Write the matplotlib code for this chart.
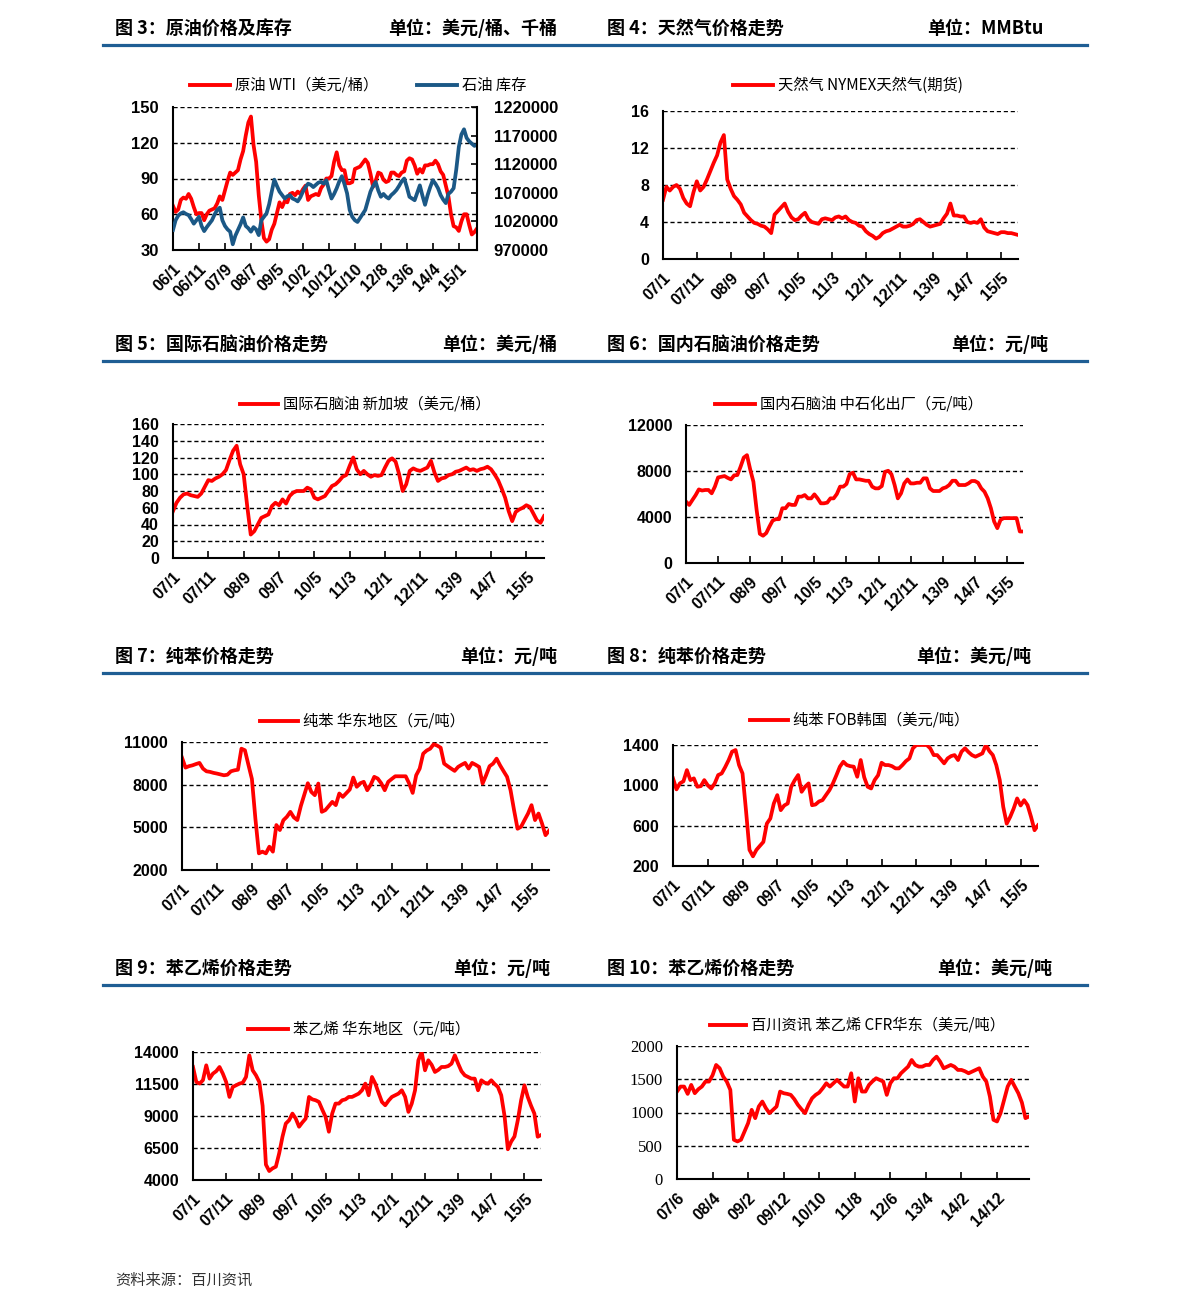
import numpy as np
import matplotlib.pyplot as plt
from matplotlib.lines import Line2D

plt.rcParams['font.family'] = ['Liberation Sans', 'Noto Sans CJK SC']

W, H = 1191, 1310
CJK = ['Noto Sans CJK SC', 'DejaVu Sans']
RED = '#FF0000'
NAVY = '#1B5886'
RULE = '#1F5E94'

# x tick labels (one label every 10 data points, as in the source charts)
labels_06 = ['06/1', '06/11', '07/9', '08/7', '09/5', '10/2', '10/12',
             '11/10', '12/8', '13/6', '14/4', '15/1']
labels_07 = ['07/1', '07/11', '08/9', '09/7', '10/5', '11/3', '12/1',
             '12/11', '13/9', '14/7', '15/5']
labels_0706 = ['07/6', '08/4', '09/2', '09/12', '10/10', '11/8', '12/6',
               '13/4', '14/2', '14/12']

# 原油 WTI, monthly from 2006/1 (美元/桶)
wti = [67, 62, 64, 72, 74, 73, 77, 73, 66, 60, 61, 61,
       55, 60, 63, 64, 65, 69, 75, 72, 80, 88, 95, 93,
       95, 97, 106, 113, 126, 137, 142, 118, 104, 76, 55, 40,
       37, 39, 47, 52, 61, 70, 66, 71, 70, 77, 78, 76,
       79, 77, 81, 84, 72, 75, 76, 77, 76, 82, 85, 90,
       90, 92, 104, 112, 101, 97, 97, 86, 86, 87, 98, 99,
       100, 103, 106, 103, 94, 83, 88, 95, 94, 89, 87, 88,
       95, 95, 93, 92, 95, 96, 105, 107, 106, 101, 94, 98,
       95, 101, 101, 102, 102, 105, 102, 96, 93, 84, 75, 60,
       50, 49, 46, 54, 60, 60, 51, 43, 45, 48]

# 石油 库存, monthly from 2006/1 (千桶)
stock = [1005000, 1022000, 1030000, 1034000, 1036000, 1033000, 1031000, 1024000, 1016000, 1022000, 1028000, 1012000,
         1003000, 1010000, 1016000, 1022000, 1032000, 1040000, 1044000, 1022000, 1012000, 1006000, 1002000, 980000,
         995000, 1005000, 1015000, 1027000, 1012000, 1008000, 1002000, 1010000, 1006000, 996000, 1022000, 1028000,
         1034000, 1050000, 1072000, 1093000, 1082000, 1072000, 1066000, 1060000, 1064000, 1066000, 1060000, 1058000,
         1055000, 1062000, 1072000, 1080000, 1086000, 1084000, 1080000, 1084000, 1088000, 1089000, 1086000, 1092000,
         1075000, 1060000, 1068000, 1078000, 1090000, 1099000, 1085000, 1069000, 1040000, 1028000, 1022000, 1019000,
         1026000, 1033000, 1040000, 1056000, 1072000, 1082000, 1089000, 1074000, 1063000, 1068000, 1063000, 1060000,
         1066000, 1070000, 1075000, 1082000, 1090000, 1095000, 1080000, 1063000, 1060000, 1057000, 1070000, 1083000,
         1065000, 1049000, 1066000, 1080000, 1092000, 1086000, 1078000, 1066000, 1058000, 1052000, 1068000, 1072000,
         1078000, 1110000, 1150000, 1172000, 1181000, 1166000, 1160000, 1156000, 1152000, 1154000]

# 天然气 NYMEX, monthly from 2007/1
natgas = [6.4, 7.8, 7.4, 7.8, 8.0, 7.6, 6.6, 6.0, 5.7, 7.2, 8.4, 7.4,
          7.8, 8.6, 9.5, 10.4, 11.2, 12.6, 13.4, 8.6, 7.6, 6.8, 6.4, 5.9,
          5.0, 4.6, 4.2, 3.9, 3.8, 3.6, 3.5, 3.2, 2.8, 4.8, 5.2, 5.6,
          6.0, 5.1, 4.5, 4.2, 4.3, 4.7, 5.0, 4.3, 4.0, 3.9, 3.8, 4.3,
          4.4, 4.3, 4.2, 4.5, 4.6, 4.4, 4.6, 4.2, 4.0, 3.9, 3.6, 3.5,
          3.0, 2.7, 2.5, 2.2, 2.4, 2.8, 3.0, 3.1, 3.3, 3.5, 3.7, 3.5,
          3.5, 3.6, 3.8, 4.2, 4.3, 4.0, 3.7, 3.5, 3.6, 3.7, 3.8, 4.4,
          4.9, 6.0, 4.7, 4.7, 4.6, 4.6, 4.0, 3.9, 4.0, 3.9, 4.3, 3.4,
          3.0, 2.9, 2.8, 2.7, 2.9, 2.9, 2.8, 2.8, 2.7, 2.6]

# 国际石脑油 新加坡, monthly from 2007/1
naphtha_sg = [56, 66, 72, 76, 77, 75, 74, 73, 77, 85, 93, 92,
              95, 97, 100, 105, 117, 128, 134, 112, 100, 62, 28, 32,
              40, 48, 50, 52, 62, 66, 63, 70, 65, 74, 78, 80,
              80, 80, 84, 82, 72, 70, 72, 74, 80, 86, 88, 92,
              97, 99, 110, 120, 106, 100, 104, 100, 97, 99, 98, 99,
              108, 116, 119, 115, 100, 80, 88, 104, 107, 105, 104, 106,
              108, 116, 102, 92, 95, 96, 99, 100, 103, 104, 106, 108,
              105, 106, 104, 106, 107, 109, 106, 100, 93, 83, 72, 56,
              44, 55, 58, 60, 63, 61, 53, 45, 42, 50]

# 国内石脑油 中石化出厂, monthly from 2007/1
naphtha_cn = [5340, 5050, 5480, 5900, 6400, 6300, 6350, 6350, 6060, 6640, 7440, 7500,
              7560, 7400, 7270, 7620, 7650, 8370, 9170, 9380, 8140, 7070, 4620, 2540,
              2370, 2600, 3170, 3690, 3810, 3810, 4760, 4760, 5130, 5050, 5050, 5770,
              5770, 5910, 5620, 5620, 5970, 5620, 5190, 5190, 5250, 5620, 5620, 6000,
              6640, 6640, 6870, 7730, 7850, 7270, 7270, 7210, 7150, 7150, 6640, 6490,
              6490, 6690, 7930, 8020, 7730, 6780, 5620, 6060, 6920, 7270, 6920, 6920,
              6980, 6980, 7360, 7360, 6490, 6260, 6260, 6260, 6490, 6580, 6780, 7150,
              7150, 6780, 6780, 6780, 6920, 7130, 7130, 6980, 6490, 6200, 5620, 4760,
              3610, 3030, 3750, 3900, 3900, 3900, 3900, 3900, 2740, 2740]

# 纯苯 华东地区, monthly from 2007/1
benzene_cn = [9900, 9200, 9300, 9360, 9450, 9530, 9130, 8940, 8900, 8830, 8780, 8720,
              8660, 8700, 8940, 9010, 9050, 10530, 10420, 9400, 8400, 5600, 3170, 3290,
              3170, 3640, 3290, 5160, 4810, 5500, 5740, 6090, 5700, 5510, 6500, 7300,
              8100, 7490, 7260, 8080, 6090, 6210, 6500, 6790, 6560, 7380, 7140, 7400,
              7660, 8500, 7850, 8100, 8200, 7610, 8000, 8550, 8430, 8100, 7610, 8200,
              8400, 8590, 8590, 8590, 8590, 8080, 7420, 8660, 9130, 10180, 10400, 10530,
              10840, 10750, 10600, 9480, 9300, 9130, 8970, 9250, 9400, 9530, 9130, 9530,
              9400, 9250, 8080, 8660, 9300, 9480, 9830, 9360, 8950, 8550, 7610, 6210,
              4900, 5040, 5510, 5970, 6560, 5510, 5970, 5270, 4450, 4760]

# 纯苯 FOB韩国, monthly from 2007/1
benzene_kr = [1069, 960, 1020, 1040, 1151, 1052, 1069, 986, 992, 1052, 1000, 969,
              1019, 1102, 1118, 1180, 1250, 1334, 1350, 1201, 1118, 750, 360, 296,
              360, 400, 439, 621, 671, 820, 903, 754, 800, 820, 986, 1050,
              1102, 936, 986, 1019, 803, 810, 840, 853, 903, 952, 1019, 1100,
              1185, 1234, 1201, 1190, 1185, 1085, 1251, 1080, 986, 969, 1052, 1100,
              1224, 1201, 1201, 1190, 1168, 1168, 1201, 1240, 1267, 1367, 1400, 1400,
              1400, 1400, 1367, 1300, 1300, 1260, 1218, 1267, 1290, 1300, 1251, 1334,
              1367, 1330, 1300, 1284, 1300, 1317, 1400, 1340, 1300, 1201, 1052, 787,
              620, 687, 770, 870, 800, 853, 803, 687, 555, 604]

# 苯乙烯 华东地区, monthly from 2007/1
styrene_cn = [12830, 11660, 11530, 11800, 12960, 11920, 12310, 12500, 12830, 12310, 11660, 10490,
              11270, 11400, 11530, 11600, 12050, 13740, 12570, 12180, 11660, 9800, 5200, 4700,
              4910, 5040, 6080, 7380, 8410, 8670, 9190, 8800, 8160, 8500, 8800, 10490,
              10300, 10230, 10100, 9500, 8930, 7770, 9190, 9970, 9970, 10230, 10300, 10490,
              10490, 10620, 10750, 11010, 11530, 10620, 12050, 11530, 10800, 10100, 9840, 10200,
              10490, 10620, 10750, 11010, 10500, 9320, 9970, 11010, 13350, 14000, 12570, 13350,
              13000, 12440, 12600, 12830, 12830, 12900, 13090, 13740, 13090, 12500, 12180, 12050,
              11920, 11920, 11010, 11790, 11600, 11530, 11790, 11500, 11270, 10620, 9000, 6400,
              7000, 7400, 8670, 10230, 11400, 10490, 9800, 9190, 7380, 7510]

# 百川资讯 苯乙烯 CFR华东, monthly from 2007/6
styrene_cfr = [1315, 1390, 1390, 1280, 1415, 1290, 1350, 1390, 1465, 1465, 1560, 1715,
               1665, 1540, 1465, 1340, 590, 565, 590, 715, 840, 1040, 915, 1090,
               1165, 1065, 990, 1040, 1090, 1315, 1290, 1280, 1265, 1200, 1115, 1050,
               990, 1115, 1215, 1265, 1300, 1365, 1440, 1390, 1440, 1490, 1440, 1390,
               1390, 1590, 1165, 1515, 1315, 1315, 1415, 1470, 1515, 1490, 1465, 1265,
               1440, 1515, 1515, 1590, 1640, 1690, 1790, 1715, 1690, 1690, 1715, 1715,
               1790, 1840, 1765, 1665, 1690, 1715, 1690, 1640, 1640, 1620, 1590, 1615,
               1640, 1665, 1540, 1465, 1240, 890, 865, 990, 1190, 1390, 1490, 1390,
               1290, 1150, 915, 940]

fig = plt.figure(figsize=(W / 100, H / 100), dpi=100)


def fx(x):
    return x / W


def fy(y):
    return 1 - y / H


def header(x0, x1, y, title, unit):
    fig.text(fx(x0), fy(y), title, family=CJK, fontsize=13, fontweight='bold', va='center')
    fig.text(fx(x1), fy(y), unit, family=CJK, fontsize=13, fontweight='bold', va='center', ha='right')


def rule(y):
    fig.add_artist(Line2D([fx(103), fx(1087)], [fy(y), fy(y)], color=RULE, lw=2.3,
                          transform=fig.transFigure))


def legend_item(x0, x1, y, text, color):
    fig.add_artist(Line2D([fx(x0), fx(x1)], [fy(y), fy(y)], color=color, lw=2.8,
                          transform=fig.transFigure))
    fig.text(fx(x1 + 5), fy(y), text, family=CJK, fontsize=11, va='center')


def panel(box, values, labels, ylim, yticks, color=RED, size=11.5, yfamily=None, yweight='bold'):
    x0, y0, x1, y1 = box
    ax = fig.add_axes([fx(x0), fy(y1), (x1 - x0) / W, (y1 - y0) / H])
    ax.plot(np.arange(len(values)), values, color=color, lw=2.7, solid_joinstyle='round')
    ax.set_xlim(0, len(values) - 1)
    ax.set_ylim(*ylim)
    ax.set_yticks(yticks)
    ax.set_yticklabels([str(v) for v in yticks], fontsize=size, fontweight=yweight,
                       family=yfamily if yfamily else ['Liberation Sans'])
    ax.set_xticks(np.arange(len(labels)) * 10)
    ax.set_xticklabels(labels, rotation=45, ha='right', va='top', rotation_mode='anchor',
                       fontsize=11.5, fontweight='bold')
    ax.tick_params(axis='y', length=0, pad=10)
    ax.tick_params(axis='x', direction='in', length=5, width=1.2, pad=8)
    ax.grid(axis='y', color='black', lw=1, ls=(0, (3, 2)))
    for s in ['top', 'right']:
        ax.spines[s].set_visible(False)
    for s in ['left', 'bottom']:
        ax.spines[s].set_linewidth(1.5)
    ax.patch.set_alpha(0)
    return ax


# row 1
rule(45)
header(115, 557, 28, '图 3：原油价格及库存', '单位：美元/桶、千桶')
header(607, 1043, 28, '图 4：天然气价格走势', '单位：MMBtu')

legend_item(190, 230, 85, '原油 WTI（美元/桶）', RED)
legend_item(417, 457, 85, '石油 库存', NAVY)
ax3 = panel((173, 107, 477, 250), wti, labels_06, (30, 150), [30, 60, 90, 120, 150], size=12)
ax3b = ax3.twinx()
ax3b.plot(np.arange(len(stock)), stock, color=NAVY, lw=2.7, solid_joinstyle='round')
ax3b.set_xlim(0, len(stock) - 1)
ax3b.set_ylim(970000, 1220000)
stock_ticks = [970000, 1020000, 1070000, 1120000, 1170000, 1220000]
ax3b.set_yticks(stock_ticks)
ax3b.set_yticklabels([str(v) for v in stock_ticks], fontsize=12, fontweight='bold')
ax3b.tick_params(axis='y', direction='in', length=4, width=1.2, pad=12)
for s in ['top', 'left', 'bottom']:
    ax3b.spines[s].set_visible(False)
ax3b.spines['right'].set_linewidth(1.5)

legend_item(733, 773, 85, '天然气 NYMEX天然气(期货)', RED)
panel((663, 111, 1018, 259), natgas, labels_07, (0, 16), [0, 4, 8, 12, 16])

# row 2
rule(361)
header(115, 557, 344, '图 5：国际石脑油价格走势', '单位：美元/桶')
header(607, 1048, 344, '图 6：国内石脑油价格走势', '单位：元/吨')
legend_item(240, 278, 404, '国际石脑油 新加坡（美元/桶）', RED)
panel((173, 424, 544, 558), naphtha_sg, labels_07, (0, 160), list(range(0, 161, 20)))
legend_item(715, 755, 404, '国内石脑油 中石化出厂（元/吨）', RED)
panel((686, 425, 1023, 563), naphtha_cn, labels_07, (0, 12000), [0, 4000, 8000, 12000])

# row 3
rule(673)
header(115, 557, 656, '图 7：纯苯价格走势', '单位：元/吨')
header(607, 1031, 656, '图 8：纯苯价格走势', '单位：美元/吨')
legend_item(260, 298, 721, '纯苯 华东地区（元/吨）', RED)
panel((182, 742, 549, 870), benzene_cn, labels_07, (2000, 11000), [2000, 5000, 8000, 11000])
legend_item(750, 788, 720, '纯苯 FOB韩国（美元/吨）', RED)
panel((673, 745, 1038, 866), benzene_kr, labels_07, (200, 1400), [200, 600, 1000, 1400])

# row 4
rule(985)
header(115, 550, 968, '图 9：苯乙烯价格走势', '单位：元/吨')
header(607, 1052, 968, '图 10：苯乙烯价格走势', '单位：美元/吨')
legend_item(248, 288, 1029, '苯乙烯 华东地区（元/吨）', RED)
panel((193, 1052, 541, 1180), styrene_cn, labels_07, (4000, 14000), [4000, 6500, 9000, 11500, 14000])
legend_item(710, 746, 1025, '百川资讯 苯乙烯 CFR华东（美元/吨）', RED)
panel((677, 1046, 1029, 1179), styrene_cfr, labels_0706, (0, 2000), [0, 500, 1000, 1500, 2000],
      yfamily=['Liberation Serif'], yweight='normal', size=12)

fig.text(fx(115), fy(1280), '资料来源：百川资讯', family=CJK, fontsize=11, va='center',
         style='italic', color='#333333')

fig.savefig('out.png', dpi=100)
